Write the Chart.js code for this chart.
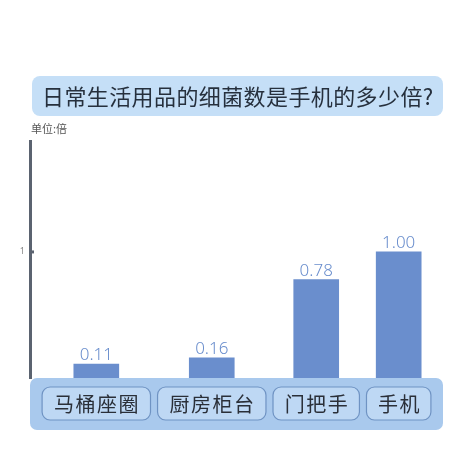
<!DOCTYPE html>
<html>
<head>
<meta charset="utf-8">
<script src="https://cdn.jsdelivr.net/npm/chart.js@4"></script>
<style>
  html, body { margin: 0; padding: 0; background: #fff; }
  #wrap { width: 474px; height: 474px; }
</style>
</head>
<body>
<div id="wrap"><canvas id="MyChart"></canvas></div>
<script>
const title = '日常生活用品的细菌数是手机的多少倍?';
const unitText = '单位:倍';
const categories = ['马桶座圈', '厨房柜台', '门把手', '手机'];
const values = [0.11, 0.16, 0.78, 1.00];
const yTicks = [1];

// x slots are sized from the label lengths (one unit = one character)
const margin = 0.55, pad = 0.93, gap = 0.32;
const slots = [];
let pos = margin;
categories.forEach(c => {
  const w = c.length + pad;
  slots.push({ start: pos, end: pos + w, mid: pos + w / 2 });
  pos += w + gap;
});
const xMax = pos - gap + margin;

const FONT_CJK = '"Noto Sans CJK SC", "Noto Sans", sans-serif';

function roundRect(ctx, x, y, w, h, r) {
  ctx.beginPath();
  ctx.moveTo(x + r, y);
  ctx.arcTo(x + w, y, x + w, y + h, r);
  ctx.arcTo(x + w, y + h, x, y + h, r);
  ctx.arcTo(x, y + h, x, y, r);
  ctx.arcTo(x, y, x + w, y, r);
  ctx.closePath();
}

const decor = {
  id: 'decor',
  beforeDraw(chart) {
    const ctx = chart.ctx;
    ctx.save();
    // title box
    ctx.fillStyle = '#c5dff7';
    roundRect(ctx, 32, 76, 411, 40, 8);
    ctx.fill();
    ctx.fillStyle = '#26303d';
    ctx.font = '22px ' + FONT_CJK;
    ctx.letterSpacing = '0.4px';
    ctx.textBaseline = 'middle';
    ctx.textAlign = 'left';
    ctx.fillText(title, 42, 97);
    // unit
    ctx.letterSpacing = '0px';
    ctx.fillStyle = '#555';
    ctx.font = '11px ' + FONT_CJK;
    ctx.fillText(unitText, 31, 129);
    ctx.restore();
  },
  afterDatasetsDraw(chart) {
    const ctx = chart.ctx;
    const xs = chart.scales.x, ys = chart.scales.y;
    const area = chart.chartArea;
    ctx.save();
    // tick marks pointing inward
    ctx.fillStyle = '#5b6370';
    yTicks.forEach(v => {
      ctx.fillRect(area.left, ys.getPixelForValue(v) - 1.5, 4, 3);
    });
    // value labels
    const meta = chart.getDatasetMeta(0);
    ctx.fillStyle = '#6a8ecd';
    ctx.font = '300 17px "Noto Sans", sans-serif';
    ctx.textAlign = 'center';
    ctx.textBaseline = 'alphabetic';
    meta.data.forEach((bar, i) => {
      ctx.fillText(values[i].toFixed(2), bar.x, bar.y - 4);
    });
    // category box
    const boxL = xs.getPixelForValue(0), boxR = xs.getPixelForValue(xMax);
    const top = area.bottom;
    ctx.fillStyle = '#a9c9ed';
    roundRect(ctx, boxL, top, boxR - boxL, 52, 7);
    ctx.fill();
    ctx.font = '20px ' + FONT_CJK;
    ctx.letterSpacing = '1.5px';
    ctx.textBaseline = 'middle';
    slots.forEach((s, i) => {
      const l = xs.getPixelForValue(s.start), r = xs.getPixelForValue(s.end);
      roundRect(ctx, l, top + 9, r - l, 33, 8);
      ctx.fillStyle = '#bed8f4';
      ctx.fill();
      ctx.lineWidth = 1.2;
      ctx.strokeStyle = '#6f93c3';
      ctx.stroke();
      ctx.fillStyle = '#2a2f38';
      ctx.fillText(categories[i], (l + r) / 2 + 0.75, top + 26);
    });
    ctx.restore();
  }
};

const ctx = document.getElementById('MyChart').getContext('2d');
const myChart = new Chart(ctx, {
  type: 'bar',
  data: {
    datasets: [{
      data: values.map((v, i) => ({ x: slots[i].mid, y: v })),
      backgroundColor: '#6a8ecd',
      barThickness: 45,
      borderWidth: 0
    }]
  },
  options: {
    responsive: true,
    maintainAspectRatio: false,
    animation: false,
    events: [],
    layout: { padding: { top: 141, bottom: 96, right: 31, left: 0 } },
    plugins: { legend: { display: false }, tooltip: { enabled: false } },
    scales: {
      x: {
        type: 'linear',
        min: 0,
        max: xMax,
        offset: false,
        display: false
      },
      y: {
        min: 0,
        max: 1.88,
        afterFit: s => { s.width = 30; },
        afterBuildTicks: s => { s.ticks = yTicks.map(v => ({ value: v })); },
        grid: { display: false, drawTicks: false },
        border: { display: true, color: '#5b6370', width: 3 },
        ticks: {
          padding: 5,
          color: '#888',
          font: { size: 9, family: '"Noto Sans", sans-serif' }
        }
      }
    }
  },
  plugins: [decor]
});
</script>
</body>
</html>
